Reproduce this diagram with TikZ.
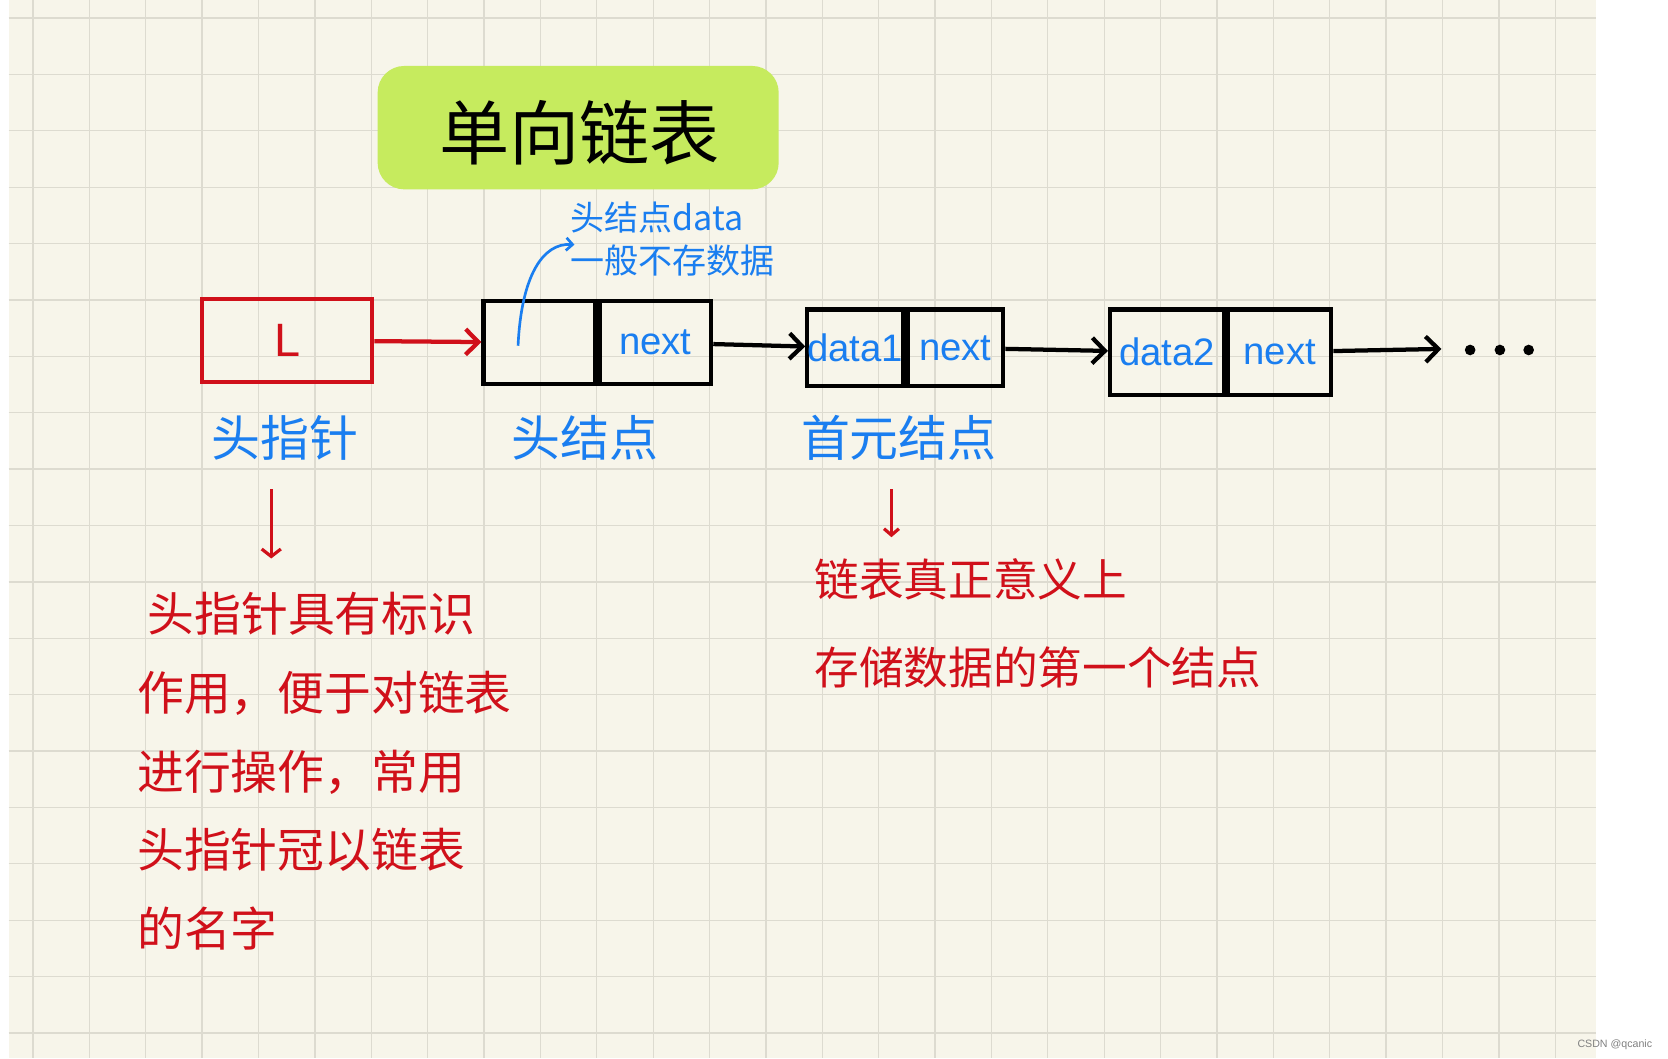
\documentclass[tikz,border=0pt]{standalone}
\usepackage{fontspec}
\setmainfont{Liberation Sans}
\newfontfamily\cjk{Noto Sans CJK SC}
\usetikzlibrary{arrows.meta,positioning}
\definecolor{paper}{HTML}{F7F5EA}
\definecolor{gridc}{HTML}{DDDBD0}
\definecolor{penred}{HTML}{D0101A}
\definecolor{penblue}{HTML}{1A7EF0}
\definecolor{marker}{HTML}{C6EB5E}
\tikzset{
  cell/.style={draw, line width=4pt, minimum height=78, inner sep=0pt, font=\fontsize{36}{40}\selectfont, text=penblue},
  bluenote/.style={text=penblue, font=\cjk\fontsize{46}{50}\selectfont},
  rednote/.style={text=penred, font=\cjk\fontsize{44}{74}\selectfont, align=left},
  link/.style={-{Straight Barb[length=12pt,width=24pt]}, line width=4pt}
}
\begin{document}
\begin{tikzpicture}[x=1pt,y=-1pt]
  \useasboundingbox (0,0) rectangle (1568,995);
  \fill[white] (0,0) rectangle (1568,995);
  \fill[paper] (8,0) rectangle (1500,995);
  \foreach \x in {31,84,...,1500} \draw[gridc, line width=1.2pt] (\x,0) -- (\x,995);
  \foreach \y in {17,70,...,995} \draw[gridc, line width=1.2pt] (8,\y) -- (1500,\y);
  % title
  \fill[marker, rounded corners=25] (355,62) rectangle (732,178);
  \node[font=\cjk\fontsize{66}{70}\selectfont] (title) at (545,125) {单向链表};
  % nodes
  \node[cell, draw=penred, text=penred, minimum width=160, font=\fontsize{44}{48}\selectfont] (L) at (270,320) {L};
  \node[cell, minimum width=105] (h1) at (507,322) {};
  \node[cell, minimum width=105, right=0pt of h1] (h2) {next};
  \node[cell, minimum width=88, minimum height=72] (a1) at (804,327) {data1};
  \node[cell, minimum width=90, minimum height=72, right=0pt of a1] (a2) {next};
  \node[cell, minimum width=107, minimum height=80] (b1) at (1097,331) {data2};
  \node[cell, minimum width=97, minimum height=80, right=0pt of b1] (b2) {next};
  \coordinate (end) at (1355,328);
  \foreach \x in {1382,1410,1437} \fill (\x,329) circle (5);
  \draw[link, penred] (L) -- (h1);
  \draw[link] (h2) -- (a1);
  \draw[link] (a2) -- (b1);
  \draw[link] (b2) -- (end);
  % labels
  \node[bluenote] (lhead) at (268,412) {头指针};
  \node[bluenote] (lhn) at (550,412) {头结点};
  \node[bluenote] (lfirst) at (845,412) {首元结点};
  \node[text=penblue, font=\cjk\fontsize{32}{40}\selectfont, align=left] (note) at (632,225) {头结点data\\一般不存数据};
  \draw[penblue, line width=2.5pt, -{Straight Barb[length=6pt,width=12pt]}] (487,325) .. controls (490,260) and (510,228) .. (540,230);
  \node[rednote] (txt1) at (305,725) {\ 头指针具有标识\\作用，便于对链表\\进行操作，常用\\头指针冠以链表\\的名字};
  \node[rednote, anchor=north west, font=\cjk\fontsize{42}{82}\selectfont] (txt2) at (762,522) {链表真正意义上\\存储数据的第一个结点};
  \draw[penred, line width=3pt, -{Straight Barb[length=7pt,width=18pt]}] (255,460) -- (255,525);
  \draw[penred, line width=3pt, -{Straight Barb[length=6pt,width=14pt]}] (838,460) -- (838,505);
  \node[text=gray, font=\fontsize{10}{10}\selectfont] (mark) at (1518,982) {CSDN @qcanic};
\end{tikzpicture}
\end{document}
